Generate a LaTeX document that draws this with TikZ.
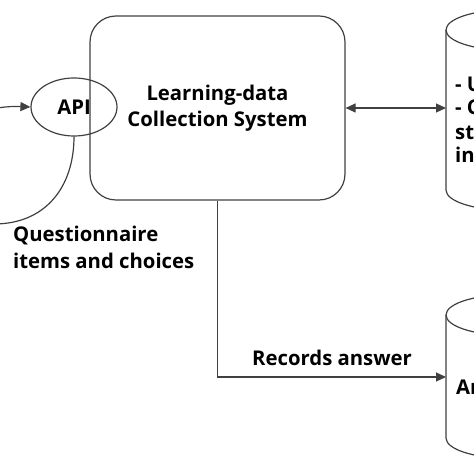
\documentclass[tikz,border=0pt]{standalone}
\usepackage{fontspec}
\setmainfont{Open Sans}
\usetikzlibrary{arrows.meta,positioning,shapes.geometric}

\tikzset{
  line/.style={draw=black!75,line width=1.2pt},
  tip/.style={-{Triangle[length=10pt,width=9pt]}},
  label/.style={font=\bfseries\fontsize{20.3}{26}\selectfont,inner sep=0pt},
  system/.style={line,rounded corners=26pt,minimum width=255pt,minimum height=184pt,
    align=center,label},
  api/.style={line,ellipse,minimum width=86pt,minimum height=58pt,label},
}

\begin{document}
\begin{tikzpicture}[x=1pt,y=1pt]
  \useasboundingbox (0,0) rectangle (474,474);

  % nodes
  \node[system] (sys) at (217.5,366) {Learning-data\\Collection System};
  \node[api] (api) at (74,367) {API};

  % databases on the right edge
  \foreach \yt/\yb in {444/284, 159/36} {
    \draw[line,fill=white] (446,\yt) -- (446,\yb)
      arc[start angle=180,end angle=360,x radius=60pt,y radius=20pt] -- (566,\yt);
    \draw[line] (506,\yt) ellipse[x radius=60pt,y radius=20pt];
  }
  \coordinate (userdb) at (446,366);
  \coordinate (answerdb) at (446,97);

  % texts in the databases
  \foreach \y/\t [count=\i] in {382/- User information, 359/- Content and, 334/structure, 311/information} {
    \node[label,anchor=base west] (info\i) at (455,\y) {\t};
  }
  \node[label,anchor=base west] (answers) at (456,79) {Answers};

  % api connections
  \coordinate (client) at (-30,359);
  \coordinate (items) at (-6,250);
  \draw[line,tip] (client) to[bend left=10] (api.west);
  \draw[line] (api.south) to[out=-90,in=0,looseness=1.1] (items);
  \node[label,anchor=base west] (q1) at (13,232) {Questionnaire};
  \node[label,anchor=base west] (q2) at (13,205) {items and choices};

  % system to databases
  \draw[line,{Triangle[length=10pt,width=9pt]}-{Triangle[length=10pt,width=9pt]}] (sys.east) -- (userdb);
  \draw[line,tip] (sys.south) |- (answerdb);
  \node[label,anchor=base west] (rec) at (252,108) {Records answer};

\end{tikzpicture}
\end{document}
